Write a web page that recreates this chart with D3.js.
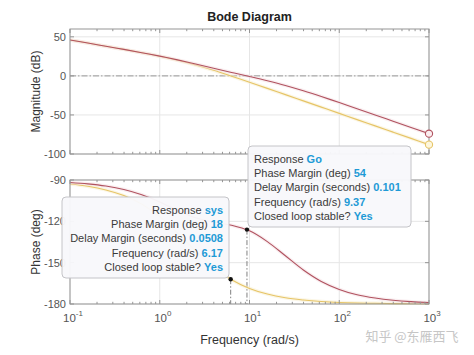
<!DOCTYPE html>
<html><head><meta charset="utf-8">
<script src="https://cdn.jsdelivr.net/npm/d3@7"></script>
<style>
html,body{margin:0;padding:0;background:#fff;}
svg{display:block;font-family:"Liberation Sans",Arial,sans-serif;}
</style></head>
<body>
<svg id="c" width="474" height="355"></svg>
<script>
// ---- data ----
const freq     = [0.1, 0.158, 0.251, 0.398, 0.631, 1, 1.58, 2.51, 3.98, 6.31, 10, 15.8, 25.1, 39.8, 63.1, 100, 158, 251, 398, 631, 1000];
const magSys   = [46.0, 42.0, 38.0, 33.9, 29.6, 25.1, 19.9, 13.9, 7.1, -0.4, -8.1, -16.0, -24.0, -32.0, -40.0, -48.0, -56.0, -64.0, -72.0, -80.0, -88.0];
const magGo    = [46.0, 42.0, 38.0, 33.9, 29.7, 25.3, 20.5, 15.2, 9.7, 4.4, -0.8, -6.2, -12.2, -19.0, -26.4, -34.2, -42.1, -50.0, -58.0, -66.0, -74.0];
const phaseSys = [-92.9, -94.5, -97.2, -101.3, -107.5, -116.6, -128.4, -141.5, -153.3, -162.4, -168.7, -172.8, -175.5, -177.1, -178.2, -178.9, -179.3, -179.5, -179.7, -179.8, -179.9];
const phaseGo  = [-91.8, -92.8, -94.4, -96.9, -100.7, -105.9, -112.1, -117.4, -120.6, -122.8, -126.9, -134.7, -145.0, -155.3, -163.6, -169.4, -173.3, -175.7, -177.3, -178.3, -178.9];
const magTicks = [-100, -50, 0, 50];
const phaseTicks = [-180, -150, -120, -90];
const decadeExps = [-1, 0, 1, 2, 3];
// stability margins
const marginGo  = {name: "Go",  pm: "54", dm: "0.101",  wc: 9.37, wcText: "9.37", phase: -126, stable: "Yes"};
const marginSys = {name: "sys", pm: "18", dm: "0.0508", wc: 6.17, wcText: "6.17", phase: -162, stable: "Yes"};

const colGo = "#b0525f", colSys = "#e6c466";
const svg = d3.select("#c");

const left = 70, right = 429;
const x = d3.scaleLog().domain([0.1, 1000]).range([left, right]);
const yMag = d3.scaleLinear().domain([-100, 60]).range([154, 29]);
const yPh = d3.scaleLinear().domain([-180, -90]).range([304, 180]);

const minorTicks = [];
decadeExps.slice(0, -1).forEach(e => { for (let k = 2; k <= 9; k++) minorTicks.push(k * Math.pow(10, e)); });

function panel(y, ticks, id) {
  const [y0, y1] = y.range(); // bottom, top
  const g = svg.append("g");
  g.append("rect").attr("x", left).attr("y", y1).attr("width", right - left).attr("height", y0 - y1).attr("fill", "#fff");
  g.selectAll(".gx").data(decadeExps.map(e => Math.pow(10, e))).enter().append("line")
    .attr("x1", d => x(d)).attr("x2", d => x(d)).attr("y1", y1).attr("y2", y0)
    .attr("stroke", "#e6e6e6").attr("stroke-width", 1);
  g.selectAll(".gy").data(ticks).enter().append("line")
    .attr("x1", left).attr("x2", right).attr("y1", d => y(d)).attr("y2", d => y(d))
    .attr("stroke", "#e6e6e6").attr("stroke-width", 1);
  svg.append("clipPath").attr("id", id).append("rect")
    .attr("x", left).attr("y", y1 - 1).attr("width", right - left).attr("height", y0 - y1 + 2);
  return g;
}

function frame(y, ticks) {
  const [y0, y1] = y.range();
  const g = svg.append("g").attr("stroke", "#959595").attr("stroke-width", 1);
  g.append("rect").attr("x", left).attr("y", y1).attr("width", right - left).attr("height", y0 - y1).attr("fill", "none");
  decadeExps.forEach(e => {
    const xx = x(Math.pow(10, e));
    g.append("line").attr("x1", xx).attr("x2", xx).attr("y1", y0).attr("y2", y0 - 4);
    g.append("line").attr("x1", xx).attr("x2", xx).attr("y1", y1).attr("y2", y1 + 4);
  });
  minorTicks.forEach(t => {
    const xx = x(t);
    g.append("line").attr("x1", xx).attr("x2", xx).attr("y1", y0).attr("y2", y0 - 2.2);
    g.append("line").attr("x1", xx).attr("x2", xx).attr("y1", y1).attr("y2", y1 + 2.2);
  });
  ticks.forEach(t => {
    g.append("line").attr("x1", left).attr("x2", left + 4).attr("y1", y(t)).attr("y2", y(t));
    g.append("line").attr("x1", right).attr("x2", right - 4).attr("y1", y(t)).attr("y2", y(t));
  });
  const tl = svg.append("g").attr("font-size", 11).attr("fill", "#555").attr("text-anchor", "end");
  ticks.forEach(t => {
    tl.append("text").attr("x", left - 4).attr("y", y(t) + 4).text(t);
  });
}

function curve(y, vals, color, clip, halo) {
  const line = d3.line().x((d, i) => x(freq[i])).y(d => y(d)).curve(d3.curveCatmullRom);
  const g = svg.append("g").attr("clip-path", `url(#${clip})`);
  if (halo) g.append("path").attr("d", line(vals)).attr("fill", "none").attr("stroke", halo).attr("stroke-width", 3.5).attr("opacity", 0.5);
  g.append("path").attr("d", line(vals)).attr("fill", "none").attr("stroke", color).attr("stroke-width", 1.1);
}

// magnitude panel
panel(yMag, magTicks, "clipMag");
svg.append("line").attr("x1", left).attr("x2", right).attr("y1", yMag(0)).attr("y2", yMag(0))
  .attr("stroke", "#9a9a9a").attr("stroke-width", 1).attr("stroke-dasharray", "6,2,1.5,2");
curve(yMag, magSys, colSys, "clipMag", "#f8eecb");
curve(yMag, magGo, colGo, "clipMag", "#f3dde1");
frame(yMag, magTicks);
svg.append("circle").attr("cx", x(freq[freq.length - 1])).attr("cy", yMag(magGo[magGo.length - 1])).attr("r", 3.6)
  .attr("fill", "#fbeef0").attr("stroke", colGo).attr("stroke-width", 1.1);
svg.append("circle").attr("cx", x(freq[freq.length - 1])).attr("cy", yMag(magSys[magSys.length - 1])).attr("r", 3.6)
  .attr("fill", "#fdf6dc").attr("stroke", colSys).attr("stroke-width", 1.1);

// phase panel
panel(yPh, phaseTicks, "clipPh");
[marginSys, marginGo].forEach(m => {
  svg.append("line").attr("x1", x(m.wc)).attr("x2", x(m.wc)).attr("y1", yPh(m.phase)).attr("y2", yPh(-180))
    .attr("stroke", "#808080").attr("stroke-width", 1).attr("stroke-dasharray", "5,2,1.5,2");
});
curve(yPh, phaseSys, colSys, "clipPh", "#f8eecb");
curve(yPh, phaseGo, colGo, "clipPh", "#f3dde1");
frame(yPh, phaseTicks);
[marginSys, marginGo].forEach(m => {
  svg.append("circle").attr("cx", x(m.wc)).attr("cy", yPh(m.phase)).attr("r", 2.2).attr("fill", "#111");
});

// x tick labels with superscripts
const xl = svg.append("g").attr("fill", "#555").attr("text-anchor", "middle");
decadeExps.forEach(e => {
  const t = xl.append("text").attr("x", x(Math.pow(10, e)) + 3).attr("y", 322).attr("font-size", 11.5);
  t.append("tspan").text("10");
  t.append("tspan").attr("dy", -6).attr("font-size", 8).text(e);
});

// titles and labels
svg.append("text").attr("x", 249.5).attr("y", 21).attr("text-anchor", "middle").attr("font-size", 12.5)
  .attr("font-weight", "bold").attr("fill", "#222").text("Bode Diagram");
svg.append("text").attr("x", 249.5).attr("y", 344).attr("text-anchor", "middle").attr("font-size", 12.5)
  .attr("fill", "#333").text("Frequency (rad/s)");
svg.append("text").attr("transform", `translate(40,${(yMag.range()[0] + yMag.range()[1]) / 2}) rotate(-90)`)
  .attr("text-anchor", "middle").attr("font-size", 12).attr("fill", "#333").text("Magnitude (dB)");
svg.append("text").attr("transform", `translate(40,${(yPh.range()[0] + yPh.range()[1]) / 2}) rotate(-90)`)
  .attr("text-anchor", "middle").attr("font-size", 12).attr("fill", "#333").text("Phase (deg)");

// data tips
function dataTip(m, bx, by, bw, bh, align) {
  const g = svg.append("g");
  g.append("rect").attr("x", bx).attr("y", by).attr("width", bw).attr("height", bh).attr("rx", 4)
    .attr("fill", "#f8f8fb").attr("fill-opacity", 0.96).attr("stroke", "#c4c4c8").attr("stroke-width", 1);
  const rows = [
    ["Response ", m.name],
    ["Phase Margin (deg) ", m.pm],
    ["Delay Margin (seconds) ", m.dm],
    ["Frequency (rad/s) ", m.wcText],
    ["Closed loop stable? ", m.stable]
  ];
  rows.forEach((r, i) => {
    const t = g.append("text").attr("font-size", 11)
      .attr("x", align === "end" ? bx + bw - 6 : bx + 6)
      .attr("y", by + 17 + i * 14.2)
      .attr("text-anchor", align);
    t.append("tspan").attr("fill", "#3a3a3a").text(r[0]);
    t.append("tspan").attr("fill", "#1e9ad6").attr("font-weight", "bold").text(r[1]);
  });
}
dataTip(marginGo, 248, 146, 163, 81, "start");
dataTip(marginSys, 62, 197, 167, 81, "end");

// watermark
svg.append("text").attr("x", 412).attr("y", 341).attr("text-anchor", "middle")
  .attr("font-family", "'Noto Sans CJK SC', sans-serif").attr("font-size", 13).attr("fill", "#c6c6c6")
  .text("知乎 @东雁西飞");
</script>
</body></html>
